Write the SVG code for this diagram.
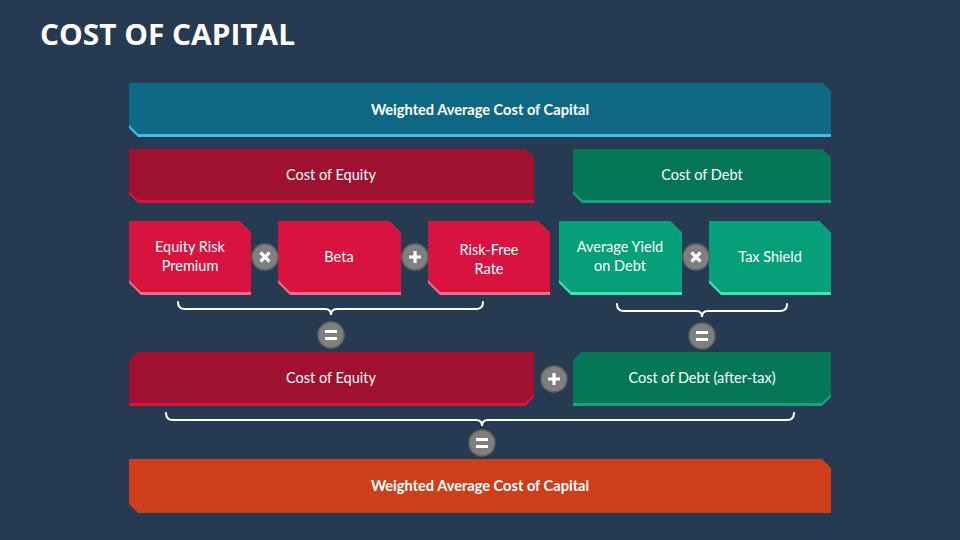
<svg xmlns="http://www.w3.org/2000/svg" width="960" height="540" viewBox="0 0 960 540">
<defs>
<style>
.lbl{font-family:Lato,"Liberation Sans",sans-serif;font-size:14.5px;fill:#FFFFFF;text-anchor:middle}
.b{font-weight:bold;font-size:14.6px}
.op circle{fill:#7F7F7F;stroke:#626262;stroke-width:1.5}
.op path{stroke:#FFFFFF;stroke-width:3.2;fill:none}
.brace{fill:none;stroke:#FFFFFF;stroke-width:2;stroke-linecap:round}
</style>
</defs>
<rect width="960" height="540" fill="#263A52"/>
<text x="40" y="45" font-family="'Open Sans','Liberation Sans',sans-serif" font-weight="bold" font-size="29" fill="#FFFFFF" textLength="255" lengthAdjust="spacingAndGlyphs">COST OF CAPITAL</text>

<g id="wacc-top">
<polygon points="129,83 822,83 831,92 831,137 138,137 129,128" fill="#3BBFE8"/>
<polygon points="129,83 822,83 831,92 831,134 138,134 129,125" fill="#0E6884"/>
<text class="lbl b" x="480" y="115">Weighted Average Cost of Capital</text>
</g>

<g id="cost-of-equity-top">
<polygon points="129,149 525,149 534,158 534,203 138,203 129,194" fill="#D7163F"/>
<polygon points="129,149 525,149 534,158 534,200 138,200 129,191" fill="#A01030"/>
<text class="lbl" x="331" y="180">Cost of Equity</text>
</g>

<g id="cost-of-debt-top">
<polygon points="573,149 822,149 831,158 831,203 582,203 573,194" fill="#12A67C"/>
<polygon points="573,149 822,149 831,158 831,200 582,200 573,191" fill="#057757"/>
<text class="lbl" x="702" y="180">Cost of Debt</text>
</g>

<g id="equity-risk-premium">
<polygon points="129,221 239,221 251,233 251,295 141,295 129,283" fill="#F26A84"/>
<polygon points="129,221 239,221 251,233 251,292 141,292 129,280" fill="#D8133F"/>
<text class="lbl" x="190" y="252">Equity Risk</text>
<text class="lbl" x="190" y="271">Premium</text>
</g>

<g id="beta">
<polygon points="278,221 389,221 401,233 401,295 290,295 278,283" fill="#F26A84"/>
<polygon points="278,221 389,221 401,233 401,292 290,292 278,280" fill="#D8133F"/>
<text class="lbl" x="339" y="262">Beta</text>
</g>

<g id="risk-free-rate">
<polygon points="428,221 538,221 550,233 550,295 440,295 428,283" fill="#F26A84"/>
<polygon points="428,221 538,221 550,233 550,292 440,292 428,280" fill="#D8133F"/>
<text class="lbl" x="489" y="255">Risk-Free</text>
<text class="lbl" x="489" y="274">Rate</text>
</g>

<g id="average-yield-on-debt">
<polygon points="559,221 670,221 682,233 682,295 571,295 559,283" fill="#3CE5B8"/>
<polygon points="559,221 670,221 682,233 682,292 571,292 559,280" fill="#05A07A"/>
<text class="lbl" x="620" y="252">Average Yield</text>
<text class="lbl" x="620" y="271">on Debt</text>
</g>

<g id="tax-shield">
<polygon points="709,221 819,221 831,233 831,295 721,295 709,283" fill="#3CE5B8"/>
<polygon points="709,221 819,221 831,233 831,292 721,292 709,280" fill="#05A07A"/>
<text class="lbl" x="770" y="262">Tax Shield</text>
</g>

<g id="cost-of-equity-bottom">
<polygon points="138,352 534,352 534,397 525,406 129,406 129,361" fill="#D7163F"/>
<polygon points="138,352 534,352 534,394 525,403 129,403 129,361" fill="#A01030"/>
<text class="lbl" x="331" y="383">Cost of Equity</text>
</g>

<g id="cost-of-debt-after-tax">
<polygon points="582,352 831,352 831,397 822,406 573,406 573,361" fill="#12A67C"/>
<polygon points="582,352 831,352 831,394 822,403 573,403 573,361" fill="#057757"/>
<text class="lbl" x="702" y="383">Cost of Debt (after-tax)</text>
</g>

<g id="wacc-bottom">
<polygon points="129,459 822,459 831,468 831,513 138,513 129,504" fill="#CC3F1A"/>
<text class="lbl b" x="480" y="491">Weighted Average Cost of Capital</text>
</g>

<g id="connectors">
<path class="brace" d="M178,302 Q178,309 185,309 L325,309 Q331,309 331,315 Q331,309 337,309 L476,309 Q483,309 483,302"/>
<path class="brace" d="M617,304 Q617,311 624,311 L696,311 Q702,311 702,317 Q702,311 708,311 L780,311 Q787,311 787,304"/>
<path class="brace" d="M166,413 Q166,420 173,420 L476,420 Q482,420 482,426 Q482,420 488,420 L787,420 Q794,420 794,413"/>
</g>

<g id="op-times-1" class="op">
<circle cx="265" cy="257" r="13"/>
<path d="M260.5,252.5 L269.5,261.5 M269.5,252.5 L260.5,261.5"/>
</g>
<g id="op-plus-1" class="op">
<circle cx="415" cy="257" r="13"/>
<path d="M415,251 L415,263 M409,257 L421,257"/>
</g>
<g id="op-times-2" class="op">
<circle cx="696" cy="257" r="13"/>
<path d="M691.5,252.5 L700.5,261.5 M700.5,252.5 L691.5,261.5"/>
</g>
<g id="op-equals-1" class="op">
<circle cx="331" cy="335" r="13"/>
<path d="M325,331.5 L337,331.5 M325,338.5 L337,338.5"/>
</g>
<g id="op-equals-2" class="op">
<circle cx="702" cy="336" r="13"/>
<path d="M696,332.5 L708,332.5 M696,339.5 L708,339.5"/>
</g>
<g id="op-plus-2" class="op">
<circle cx="554" cy="379" r="13"/>
<path d="M554,373 L554,385 M548,379 L560,379"/>
</g>
<g id="op-equals-3" class="op">
<circle cx="482" cy="443" r="13"/>
<path d="M476,439.5 L488,439.5 M476,446.5 L488,446.5"/>
</g>
</svg>
